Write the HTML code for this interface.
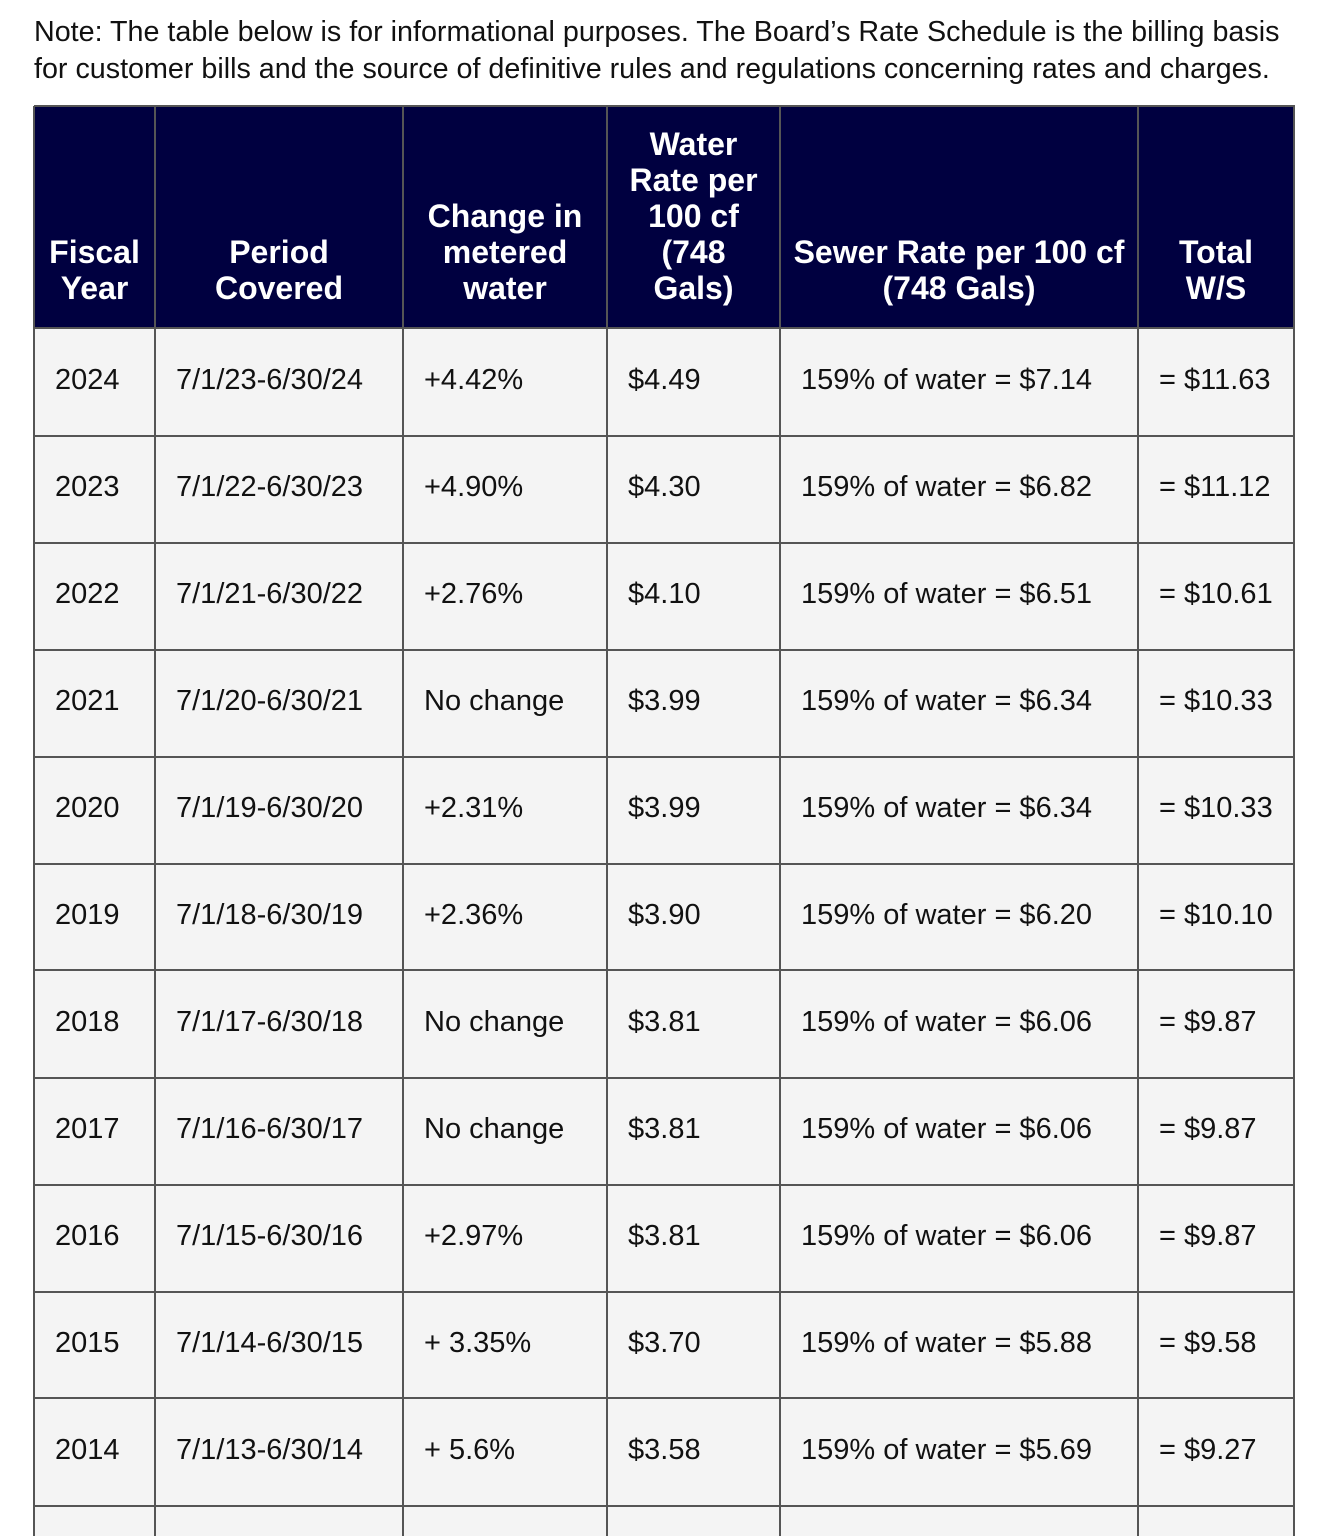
<!DOCTYPE html>
<html style="overflow:hidden;height:1536px"><head><style>
html,body{margin:0;padding:0}
body{width:1336px;height:1536px;overflow:hidden;background:#fff;font-family:"Liberation Sans",Arial,sans-serif;position:relative}
.note{position:absolute;left:34px;top:14px;font-size:28.7px;line-height:37px;color:#111;white-space:nowrap}
.hdr{position:absolute;top:106px;left:34px;width:1260px;height:222px;background:#000040}
.c{position:absolute;box-sizing:border-box}
.h{color:#fff;font-weight:bold;font-size:32px;line-height:36px;text-align:center;display:flex;align-items:flex-end;justify-content:center;padding-bottom:22px}
.b{background:#f4f4f4;font-size:29px;color:#111;display:flex;align-items:center;padding-left:21px;padding-bottom:4px;white-space:nowrap}
.v{position:absolute;width:2px;background:#555;top:106px;height:1430px}
.hl{position:absolute;height:2px;background:#555;left:34px;width:1261px}
</style></head><body>
<div class="note">Note: The table below is for informational purposes. The Board’s Rate Schedule is the billing basis<br>for customer bills and the source of definitive rules and regulations concerning rates and charges.</div>
<div class="hdr"></div>
<div id="t"></div>
<script>
var cols=[34,155,403,607,780,1138,1294];
var heads=["Fiscal<br>Year","Period<br>Covered","Change in<br>metered<br>water","Water<br>Rate per<br>100 cf<br>(748<br>Gals)","Sewer Rate per 100 cf<br>(748 Gals)","Total<br>W/S"];
var rows=[
["2024","7/1/23-6/30/24","+4.42%","$4.49","159% of water = $7.14","= $11.63"],
["2023","7/1/22-6/30/23","+4.90%","$4.30","159% of water = $6.82","= $11.12"],
["2022","7/1/21-6/30/22","+2.76%","$4.10","159% of water = $6.51","= $10.61"],
["2021","7/1/20-6/30/21","No change","$3.99","159% of water = $6.34","= $10.33"],
["2020","7/1/19-6/30/20","+2.31%","$3.99","159% of water = $6.34","= $10.33"],
["2019","7/1/18-6/30/19","+2.36%","$3.90","159% of water = $6.20","= $10.10"],
["2018","7/1/17-6/30/18","No change","$3.81","159% of water = $6.06","= $9.87"],
["2017","7/1/16-6/30/17","No change","$3.81","159% of water = $6.06","= $9.87"],
["2016","7/1/15-6/30/16","+2.97%","$3.81","159% of water = $6.06","= $9.87"],
["2015","7/1/14-6/30/15","+ 3.35%","$3.70","159% of water = $5.88","= $9.58"],
["2014","7/1/13-6/30/14","+ 5.6%","$3.58","159% of water = $5.69","= $9.27"],
["","","","","",""]];
var ys=[328,436,543,650,757,864,970,1078,1185,1292,1398,1506,1536];
var h="";
for(var i=0;i<6;i++){h+='<div class="c h" style="left:'+cols[i]+'px;top:106px;width:'+(cols[i+1]-cols[i])+'px;height:222px">'+heads[i]+'</div>';}
for(var r=0;r<rows.length;r++){for(var i=0;i<6;i++){h+='<div class="c b" style="left:'+cols[i]+'px;top:'+ys[r]+'px;width:'+(cols[i+1]-cols[i])+'px;height:'+(ys[r+1]-ys[r])+'px">'+rows[r][i]+'</div>';}
h+='<div class="hl" style="top:'+(ys[r]-1)+'px"></div>';}
h+='<div class="hl" style="top:105px"></div>';
for(var i=0;i<7;i++){h+='<div class="v" style="left:'+(cols[i]-1)+'px"></div>';}
document.getElementById("t").innerHTML=h;
</script>
</body></html>
